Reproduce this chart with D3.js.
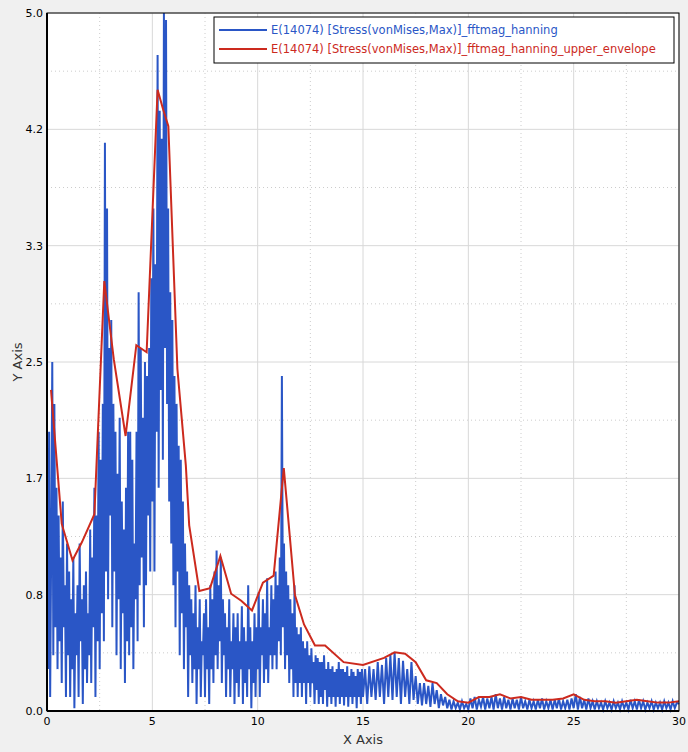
<!DOCTYPE html>
<html>
<head>
<meta charset="utf-8">
<script src="https://cdn.jsdelivr.net/npm/d3@7"></script>
<style>
  body { margin: 0; background: #f0f0f0; }
  text { font-family: "DejaVu Sans", sans-serif; }
</style>
</head>
<body>
<svg id="chart" width="688" height="752"></svg>
<script>
// blue series, part 1: x = 0..15, sampled every 0.05
const blueLowStep = 0.05;
const blueLow = [
  1.9,0.3,2.0,0.1,1.2,2.5,0.4,2.2,0.6,1.6,0.3,1.4,0.5,1.1,0.2,1.5,0.6,0.9,0.1,1.2,
  0.4,1.0,0.1,0.8,0.3,1.1,0.02,0.7,0.4,0.9,0.1,1.2,0.5,0.8,0.05,0.9,0.3,1.0,0.2,0.7,
  0.4,1.3,0.2,1.1,0.6,1.6,0.1,1.4,0.5,2.0,0.3,1.8,0.7,2.2,0.5,4.07,1.0,3.6,0.8,2.6,
  1.4,2.8,0.6,2.2,1.0,2.0,0.4,1.7,0.8,2.1,0.3,1.5,0.7,1.3,0.2,1.6,0.5,2.0,0.4,2.0,
  0.6,1.8,0.3,1.2,0.8,2.0,0.5,3.0,0.9,2.6,1.1,2.1,0.6,2.5,0.9,2.4,1.4,2.6,1.0,3.1,
  1.5,3.6,1.0,3.2,2.0,4.7,1.6,4.3,2.3,4.1,1.8,5.0,2.6,4.95,2.2,3.6,1.5,3.0,1.2,2.8,
  0.9,2.4,0.6,2.2,1.0,1.9,0.4,1.8,0.7,1.5,0.3,1.2,0.6,1.0,0.1,0.9,0.4,0.8,0.2,0.7,
  0.3,0.9,0.05,0.6,0.3,0.8,0.1,0.5,0.4,0.7,0.1,0.8,0.3,0.6,0.05,0.9,0.3,0.8,0.2,1.0,
  0.4,1.15,0.3,0.9,0.5,1.1,0.2,0.8,0.4,0.7,0.1,0.6,0.3,0.8,0.1,0.5,0.3,0.7,0.05,0.6,
  0.2,0.7,0.1,0.5,0.3,0.75,0.05,0.6,0.2,0.5,0.1,0.9,0.3,0.6,0.02,0.5,0.2,0.7,0.1,0.6,
  0.3,0.85,0.1,0.6,0.4,0.8,0.2,0.7,0.3,0.95,0.2,0.6,0.4,0.9,0.3,0.8,0.4,1.0,0.3,0.9,
  0.5,1.1,0.4,2.4,0.6,1.2,0.3,1.0,0.4,0.9,0.2,0.8,0.3,0.7,0.1,0.9,0.2,0.6,0.1,0.55,
  0.2,0.6,0.1,0.5,0.2,0.45,0.05,0.5,0.2,0.4,0.1,0.45,0.2,0.35,0.05,0.4,0.15,0.38,0.05,0.35,
  0.1,0.35,0.05,0.4,0.15,0.3,0.03,0.35,0.1,0.3,0.05,0.32,0.1,0.28,0.03,0.3,0.1,0.35,0.05,0.3,
  0.1,0.3,0.04,0.28,0.1,0.32,0.03,0.25,0.1,0.3,0.05,0.28,0.1,0.25,0.02,0.3,0.1,0.28,0.05,0.3
];
// blue series, part 2: x = 15..30, sampled every 0.1
const blueHighStart = 15;
const blueHighStep = 0.1;
const blueHigh = [
  0.1,0.3,0.05,0.32,0.1,0.3,0.08,0.35,0.1,0.33,
  0.05,0.38,0.1,0.4,0.08,0.42,0.1,0.38,0.05,0.36,
  0.1,0.3,0.05,0.35,0.08,0.25,0.05,0.2,0.04,0.2,
  0.05,0.18,0.03,0.2,0.05,0.15,0.02,0.12,0.04,0.1,
  0.02,0.08,0.01,0.07,0.02,0.06,0.01,0.07,0.02,0.05,
  0.01,0.09,0.02,0.1,0.01,0.08,0.03,0.1,0.01,0.09,
  0.02,0.1,0.01,0.12,0.02,0.09,0.01,0.1,0.02,0.08,
  0.01,0.09,0.02,0.08,0.01,0.1,0.02,0.07,0.01,0.08,
  0.02,0.07,0.01,0.08,0.02,0.09,0.01,0.07,0.02,0.08,
  0.01,0.08,0.02,0.09,0.01,0.07,0.02,0.08,0.01,0.09,
  0.02,0.12,0.01,0.1,0.02,0.08,0.01,0.09,0.02,0.07,
  0.01,0.07,0.02,0.06,0.01,0.07,0.02,0.06,0.01,0.07,
  0.02,0.06,0.01,0.07,0.02,0.06,0.01,0.08,0.02,0.07,
  0.01,0.08,0.02,0.07,0.01,0.06,0.02,0.07,0.01,0.06,
  0.02,0.06,0.01,0.07,0.02,0.06,0.01,0.07,0.02,0.06,
  0.05
];

// red envelope
const envX = [0.19,0.7,1.21,1.66,2.25,2.72,3.17,3.73,4.24,4.73,5.25,5.51,5.76,6.19,6.59,6.75,7.23,7.74,8.23,8.74,9.22,9.73,10.25,10.76,11.24,11.77,12.2,12.72,13.2,14.08,15,16,16.5,17,17.5,18,18.5,19,19.5,20,20.5,21,21.5,22,22.5,23,23.5,24,24.5,25,25.5,26,26.5,27,27.5,28,28.5,29,29.5,30];
const envY = [2.30,1.34,1.08,1.21,1.41,3.08,2.52,1.97,2.62,2.57,4.45,4.31,4.19,2.45,1.76,1.33,0.86,0.88,1.11,0.84,0.79,0.72,0.92,0.97,1.74,0.83,0.62,0.47,0.47,0.35,0.33,0.38,0.42,0.41,0.35,0.22,0.2,0.12,0.07,0.06,0.1,0.1,0.12,0.09,0.1,0.08,0.08,0.08,0.09,0.12,0.08,0.07,0.07,0.06,0.07,0.08,0.07,0.06,0.06,0.07];

const xTicks = [0,5,10,15,20,25,30];
const yTicks = [0.0,5/6,10/6,2.5,20/6,25/6,5.0];
const yLabels = ["0.0","0.8","1.7","2.5","3.3","4.2","5.0"];
const legendNames = ["E(14074) [Stress(vonMises,Max)]_fftmag_hanning","E(14074) [Stress(vonMises,Max)]_fftmag_hanning_upper_envelope"];
const colors = ["#2a56c6","#cc2a1e"];

const svg = d3.select('#chart');
const m = {left: 47, right: 679, top: 13, bottom: 711};
const x = d3.scaleLinear().domain([0,30]).range([m.left, m.right]);
const y = d3.scaleLinear().domain([0,5]).range([m.bottom, m.top]);

svg.append('rect').attr('x', m.left).attr('y', m.top)
  .attr('width', m.right - m.left).attr('height', m.bottom - m.top).attr('fill', '#fff');

// minor dotted grid
const g = svg.append('g');
d3.range(2.5, 30, 5).forEach(v => g.append('line')
  .attr('x1', x(v)).attr('x2', x(v)).attr('y1', m.top).attr('y2', m.bottom)
  .attr('stroke', '#ccc').attr('stroke-dasharray', '1,3'));
d3.range(0, 6).forEach(i => g.append('line')
  .attr('y1', y(i*5/6 + 5/12)).attr('y2', y(i*5/6 + 5/12)).attr('x1', m.left).attr('x2', m.right)
  .attr('stroke', '#ccc').attr('stroke-dasharray', '1,3'));
// major grid
xTicks.forEach(v => g.append('line')
  .attr('x1', x(v)).attr('x2', x(v)).attr('y1', m.top).attr('y2', m.bottom).attr('stroke', '#d8d8d8'));
yTicks.forEach(v => g.append('line')
  .attr('y1', y(v)).attr('y2', y(v)).attr('x1', m.left).attr('x2', m.right).attr('stroke', '#d8d8d8'));

const bluePts = blueLow.map((v, i) => [i * blueLowStep, v])
  .concat(blueHigh.map((v, i) => [blueHighStart + i * blueHighStep, v]));

const line = d3.line().x(d => x(d[0])).y(d => y(d[1]));
svg.append('path')
  .datum(bluePts)
  .attr('d', line).attr('fill', 'none').attr('stroke', colors[0]).attr('stroke-width', 2);
svg.append('path')
  .datum(envX.map((v, i) => [v, envY[i]]))
  .attr('d', line).attr('fill', 'none').attr('stroke', colors[1]).attr('stroke-width', 2);

// frame
svg.append('rect').attr('x', m.left).attr('y', m.top)
  .attr('width', m.right - m.left).attr('height', m.bottom - m.top)
  .attr('fill', 'none').attr('stroke', '#000').attr('stroke-width', 1);
svg.append('line').attr('x1', m.left).attr('x2', m.right).attr('y1', m.bottom).attr('y2', m.bottom)
  .attr('stroke', '#000').attr('stroke-width', 2);
svg.append('line').attr('x1', m.left).attr('x2', m.left).attr('y1', m.top).attr('y2', m.bottom)
  .attr('stroke', '#000').attr('stroke-width', 2);

// tick labels
svg.selectAll('.xt').data(xTicks).join('text')
  .attr('x', d => x(d)).attr('y', 725).attr('text-anchor', 'middle')
  .attr('font-size', 11).text(d => d);
svg.selectAll('.yt').data(yTicks).join('text')
  .attr('x', 43).attr('y', d => y(d) + 4).attr('text-anchor', 'end')
  .attr('font-size', 11).text((d, i) => yLabels[i]);
svg.append('text').attr('x', 363).attr('y', 744).attr('text-anchor', 'middle')
  .attr('font-size', 13).attr('fill', '#333').text('X Axis');
svg.append('text').attr('transform', 'translate(22,362) rotate(-90)').attr('text-anchor', 'middle')
  .attr('font-size', 13).attr('fill', '#333').text('Y Axis');

// legend
const lg = svg.append('g').attr('transform', 'translate(214,17)');
lg.append('rect').attr('width', 460).attr('height', 46).attr('fill', '#fff').attr('stroke', '#000');
legendNames.forEach((n, i) => {
  lg.append('line').attr('x1', 5).attr('x2', 53).attr('y1', 13 + i*19).attr('y2', 13 + i*19)
    .attr('stroke', colors[i]).attr('stroke-width', 2);
  lg.append('text').attr('x', 57).attr('y', 17 + i*19).attr('font-size', 11.5)
    .attr('fill', colors[i]).text(n);
});
</script>
</body>
</html>
